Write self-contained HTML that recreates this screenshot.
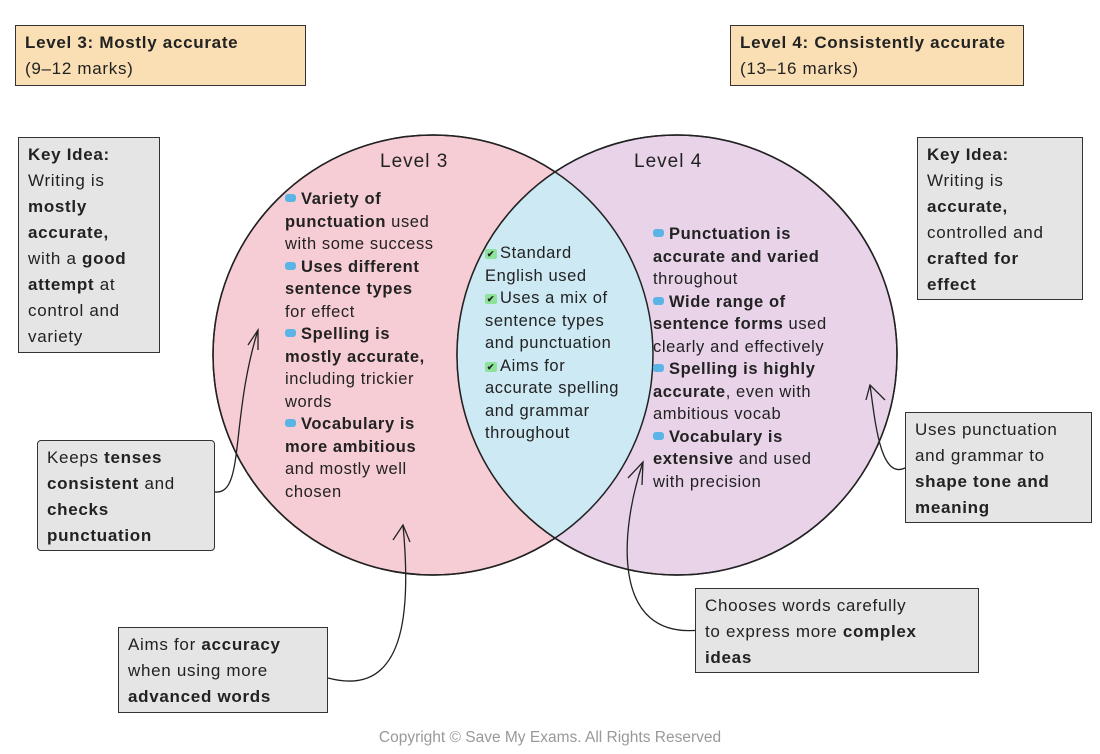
<!DOCTYPE html>
<html><head><meta charset="utf-8">
<style>
body{margin:0;width:1100px;height:754px;background:#fff;position:relative;overflow:hidden;font-family:"Liberation Sans",sans-serif;color:#222;}
.t{position:absolute;font-size:16.5px;line-height:22.5px;letter-spacing:0.6px;white-space:nowrap;}
.box{position:absolute;border:1.5px solid #333;box-sizing:border-box;padding:4px 9px;font-size:17px;line-height:26px;letter-spacing:0.7px;}
.g{background:#e5e5e5;}
.o{background:#f9dfb3;}
b{font-weight:bold;}
.bl{display:inline-block;width:11px;height:8px;background:#5ab5e6;border-radius:3px;margin-right:5px;vertical-align:2px;}
.ck{display:inline-block;width:12px;height:10px;background:#8ee39a;border-radius:2px;margin-right:3px;vertical-align:1px;font-size:9px;line-height:10px;text-align:center;font-weight:bold;}
</style></head><body>
<svg width="1100" height="754" style="position:absolute;left:0;top:0">
<defs><clipPath id="cl"><circle cx="433" cy="355" r="220"/></clipPath></defs>
<circle cx="433" cy="355" r="220" fill="#f7cdd5" stroke="#222" stroke-width="1.5"/>
<circle cx="677" cy="355" r="220" fill="#e8d3e8" stroke="#222" stroke-width="1.5"/>
<circle cx="677" cy="355" r="220" fill="#cde9f4" clip-path="url(#cl)"/>
<circle cx="433" cy="355" r="220" fill="none" stroke="#222" stroke-width="1.5"/>
<circle cx="677" cy="355" r="220" fill="none" stroke="#222" stroke-width="1.5"/>
<g fill="none" stroke="#222" stroke-width="1.3">
<path d="M215 492 C245 495 230 420 258 330"/><path d="M248 345 L258 330 L258 350"/>
<path d="M328 678 C410 700 410 600 403 525"/><path d="M393 540 L403 525 L410 542"/>
<path d="M700 630 C610 640 620 530 643 462"/><path d="M628 478 L643 462 L642 485"/>
<path d="M905 468 C880 480 875 420 870 385"/><path d="M866 400 L870 385 L885 400"/>
</g>
</svg>
<div class="box o" style="left:15px;top:25px;width:291px;height:61px"><b>Level 3: Mostly accurate</b><br>(9–12 marks)</div>
<div class="box o" style="left:730px;top:25px;width:294px;height:61px"><b>Level 4: Consistently accurate</b><br>(13–16 marks)</div>
<div class="box g" style="left:18px;top:137px;width:142px;height:216px"><b>Key Idea:</b><br>Writing is<br><b>mostly<br>accurate,</b><br>with a <b>good<br>attempt</b> at<br>control and<br>variety</div>
<div class="box g" style="left:917px;top:137px;width:166px;height:163px"><b>Key Idea:</b><br>Writing is<br><b>accurate,</b><br>controlled and<br><b>crafted for<br>effect</b></div>
<div class="box g" style="left:37px;top:440px;width:178px;height:111px;border-radius:4px">Keeps <b>tenses<br>consistent</b> and<br><b>checks<br>punctuation</b></div>
<div class="box g" style="left:118px;top:627px;width:210px;height:86px">Aims for <b>accuracy</b><br>when using more<br><b>advanced words</b></div>
<div class="box g" style="left:695px;top:588px;width:284px;height:85px">Chooses words carefully<br>to express more <b>complex<br>ideas</b></div>
<div class="box g" style="left:905px;top:412px;width:187px;height:111px">Uses punctuation<br>and grammar to<br><b>shape tone and<br>meaning</b></div>
<div class="t" style="left:380px;top:151px;font-size:19px;letter-spacing:1px">Level 3</div>
<div class="t" style="left:634px;top:151px;font-size:19px;letter-spacing:1px">Level 4</div>
<div class="t" style="left:285px;top:188px"><span class="bl"></span><b>Variety of<br>punctuation</b> used<br>with some success<br><span class="bl"></span><b>Uses different<br>sentence types</b><br>for effect<br><span class="bl"></span><b>Spelling is<br>mostly accurate,</b><br>including trickier<br>words<br><span class="bl"></span><b>Vocabulary is<br>more ambitious</b><br>and mostly well<br>chosen</div>
<div class="t" style="left:485px;top:242px"><span class="ck">✔</span>Standard<br>English used<br><span class="ck">✔</span>Uses a mix of<br>sentence types<br>and punctuation<br><span class="ck">✔</span>Aims for<br>accurate spelling<br>and grammar<br>throughout</div>
<div class="t" style="left:653px;top:223px"><span class="bl"></span><b>Punctuation is<br>accurate and varied</b><br>throughout<br><span class="bl"></span><b>Wide range of<br>sentence forms</b> used<br>clearly and effectively<br><span class="bl"></span><b>Spelling is highly<br>accurate</b>, even with<br>ambitious vocab<br><span class="bl"></span><b>Vocabulary is<br>extensive</b> and used<br>with precision</div>
<div class="t" style="left:0;width:1100px;text-align:center;top:727px;color:#999;font-size:15.5px;letter-spacing:0">Copyright © Save My Exams. All Rights Reserved</div>
</body></html>
